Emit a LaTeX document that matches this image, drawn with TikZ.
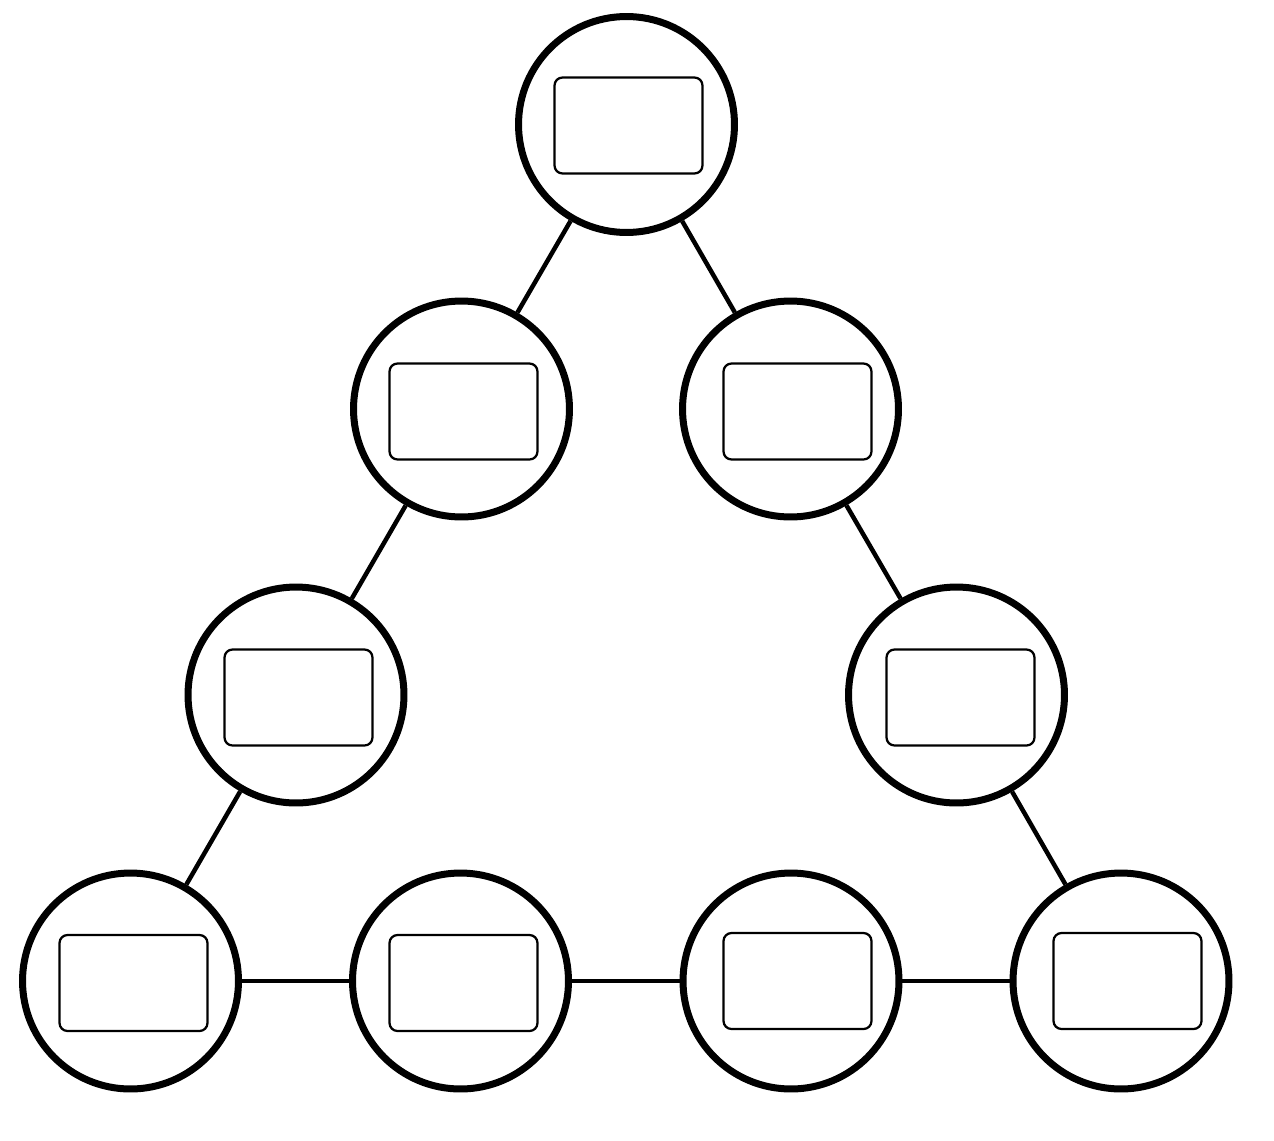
\documentclass[tikz,border=0pt]{standalone}
\begin{document}
\begin{tikzpicture}[x=0.02cm,y=-0.02cm,
  ring/.style={draw=black,circle,line width=0.14cm,minimum size=4.32cm,inner sep=0pt},
  box/.style={draw=black,rectangle,rounded corners=0.16cm,line width=0.045cm,minimum width=2.96cm,minimum height=1.92cm,inner sep=0pt},
  link/.style={line width=0.09cm}]
\useasboundingbox (0,0) rectangle (1274,1140);
\node[ring] (c1) at (626.5,124.5) {};
\node[ring] (c2) at (461.5,409) {};
\node[ring] (c3) at (790.5,409) {};
\node[ring] (c4) at (296,695) {};
\node[ring] (c5) at (956.5,695) {};
\node[ring] (c6) at (130.5,981) {};
\node[ring] (c7) at (460.5,981) {};
\node[ring] (c8) at (791,981) {};
\node[ring] (c9) at (1121,981) {};
\node[box] (r1) at (628.5,125.5) {};
\node[box] (r2) at (463.5,411.5) {};
\node[box] (r3) at (797.5,411.5) {};
\node[box] (r4) at (298.5,697.5) {};
\node[box] (r5) at (960.5,697.5) {};
\node[box] (r6) at (133.5,983) {};
\node[box] (r7) at (463.5,983) {};
\node[box] (r8) at (797.5,981) {};
\node[box] (r9) at (1127.5,981) {};
\draw[link] (c1) -- (c2);
\draw[link] (c1) -- (c3);
\draw[link] (c2) -- (c4);
\draw[link] (c3) -- (c5);
\draw[link] (c4) -- (c6);
\draw[link] (c5) -- (c9);
\draw[link] (c6) -- (c7);
\draw[link] (c7) -- (c8);
\draw[link] (c8) -- (c9);
\end{tikzpicture}
\end{document}
